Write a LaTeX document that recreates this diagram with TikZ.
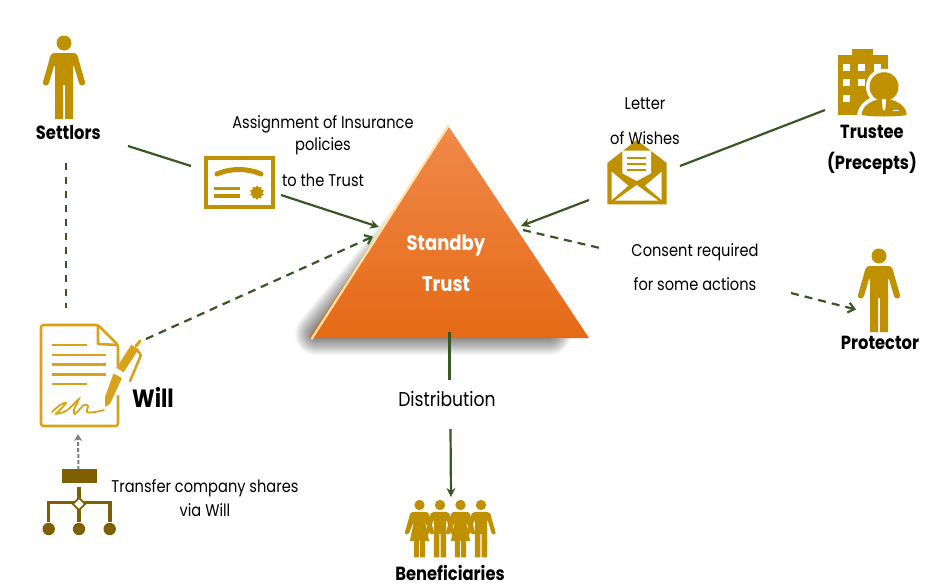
\documentclass[tikz,border=0pt]{standalone}
\usepackage{fontspec}
\setmainfont[FakeStretch=0.86]{Poppins}
\usetikzlibrary{arrows.meta,shapes.geometric}
\definecolor{icongold}{HTML}{BF9000}
\definecolor{docgold}{HTML}{D9A21B}
\definecolor{orgbrown}{HTML}{7F6000}
\definecolor{linegreen}{HTML}{385723}
\definecolor{dashgrey}{HTML}{7F7F7F}
\definecolor{trianglehi}{HTML}{F0894A}
\definecolor{trianglelo}{HTML}{E56A15}
\definecolor{trianglecream}{HTML}{FFE3A6}
\tikzset{
  plainlab/.style={font=\fontsize{17}{20}\selectfont, text=black, inner sep=0pt},
  boldlab/.style={font=\fontsize{19}{22}\selectfont\bfseries, text=black, inner sep=0pt},
  triangletext/.style={font=\fontsize{21}{24}\selectfont\bfseries, text=white, inner sep=0pt},
  conn/.style={draw=linegreen, line width=2.2pt},
  connarrow/.style={conn, -{Stealth[length=9pt,width=9pt]}},
  dashconn/.style={conn, dash pattern=on 8pt off 6pt},
  dasharrow/.style={dashconn, -{Straight Barb[length=6pt,width=10pt]}},
  pics/personicon/.style={code={
    \fill[icongold] (0,0) circle (7.5);
    \fill[icongold] (-9,10) .. controls (-13,10) and (-14,13) .. (-15,18) -- (-21,39)
      .. controls (-22,43) and (-16,44) .. (-15,40) -- (-10,23) -- (-9,23) -- (-9,76) -- (-1,76)
      -- (-1,42) -- (1,42) -- (1,76) -- (9,76) -- (9,23) -- (10,23) -- (15,40)
      .. controls (16,44) and (22,43) .. (21,39) -- (15,18)
      .. controls (14,13) and (13,10) .. (9,10) -- cycle;
  }},
  pics/womanicon/.style={code={
    \fill[icongold] (0,0) circle (7.5);
    \fill[icongold] (-8,10) .. controls (-13,10) and (-14,13) .. (-15,18) -- (-21,39)
      .. controls (-22,43) and (-16,44) .. (-15,40) -- (-8,24) -- (-14,52) -- (-8,52) -- (-8,76) -- (-1,76)
      -- (-1,52) -- (1,52) -- (1,76) -- (8,76) -- (8,52) -- (14,52) -- (8,24) -- (15,40)
      .. controls (16,44) and (22,43) .. (21,39) -- (15,18)
      .. controls (14,13) and (13,10) .. (8,10) -- cycle;
  }},
}

\begin{document}
\begin{tikzpicture}[x=1pt, y=-1pt]
\useasboundingbox (0,0) rectangle (939,587);
\fill[white] (0,0) rectangle (939,587);

% triangle
\coordinate (apex) at (449,127);
\coordinate (baseleft) at (309,338);
\coordinate (baseright) at (589,338);
\foreach \w in {2,4,...,42}
  \draw[black, opacity=.03, line width=\w pt, line join=round] (452,170) -- (316,334) -- (550,334) -- cycle;
\fill[black, opacity=.5] (452,170) -- (316,334) -- (550,334) -- cycle;
\shade[top color=trianglehi, bottom color=trianglelo] (apex) -- (baseleft) -- (baseright) -- cycle;
\draw[line width=2.2pt, color=trianglecream] ([xshift=-.3pt,yshift=2pt]apex) -- ([xshift=2.5pt,yshift=-1pt]baseleft);

% connector ends
\coordinate (settlorout) at (128,146);
\coordinate (certin) at (191,166);
\coordinate (certout) at (281,195);
\coordinate (trustleft) at (379,227);
\coordinate (willout) at (146,339);
\coordinate (trustdash) at (373,236.5);
\coordinate (trusteeout) at (825,110);
\coordinate (letterin) at (680,166);
\coordinate (letterout) at (589,200);
\coordinate (trustright) at (521,226);
\coordinate (consentin) at (600,248);
\coordinate (trustcons) at (523,230);
\coordinate (consentout) at (791,293);
\coordinate (protectin) at (856,309.5);
\coordinate (trustbase) at (449.5,332);
\coordinate (distin) at (449.5,380);
\coordinate (distout) at (450.5,429);
\coordinate (benefin) at (451,497);
\coordinate (settlordown) at (66,163);
\coordinate (willup) at (66,308);
\coordinate (orgup) at (78.5,470);
\coordinate (willbase) at (78,434);

\draw[conn] (settlorout) -- (certin);
\draw[connarrow] (certout) -- (trustleft);
\draw[dasharrow] (willout) -- (trustdash);
\draw[conn] (trusteeout) -- (letterin);
\draw[connarrow] (letterout) -- (trustright);
\draw[dashconn] (trustcons) -- (consentin);
\draw[dasharrow] (consentout) -- (protectin);
\draw[conn] (trustbase) -- (distin);
\draw[connarrow] (distout) -- (benefin);
\draw[draw=linegreen, line width=1.3pt, dash pattern=on 7pt off 7pt] (settlordown) -- (willup);
\draw[draw=dashgrey, line width=2pt, dash pattern=on 4pt off 2pt, -{Stealth[length=7pt,width=8pt]}] (orgup) -- (willbase);

% people
\pic at (64,43) {personicon};
\pic at (879,256) {personicon};
\pic[scale=.69] at (419.5,505) {womanicon};
\pic[scale=.69] at (440,505) {personicon};
\pic[scale=.69] at (460.5,505) {womanicon};
\pic[scale=.69] at (481,505) {personicon};

% certificate
\draw[icongold, line width=4pt] (206,158) rectangle (273,207);
\draw[icongold, line width=5pt, line cap=round] (217,174) .. controls (231,168) and (247,168) .. (261,174);
\draw[icongold, line width=3.2pt] (214,188.3) -- (239.5,188.3);
\draw[icongold, line width=3.2pt] (214,196) -- (239.5,196);
\node[star, star points=10, star point ratio=1.35, fill=icongold, minimum size=14.5pt, inner sep=0pt] (certseal) at (257,192.7) {};

% will document
\draw[docgold, line width=2.6pt, line join=round, rounded corners=2.5pt] (98,325) -- (41,325) -- (41,426) -- (118,426) -- (118,345) -- cycle;
\draw[docgold, line width=2.6pt, line join=round] (98,325) -- (98,344) -- (118,345);
\foreach \y/\xend in {345/87, 355/106, 364.7/106, 374.3/106, 384/87}
  \draw[docgold, line width=2.6pt] (52,\y) -- (\xend,\y);
\draw[docgold, line width=1.8pt, line cap=round] plot[smooth] coordinates {(52,412) (60,405) (66,403) (58,412) (56,414) (66,411) (76,402) (79,399) (74,410) (75,414) (84,405) (88,406) (87,412) (95,412) (104,410)};
\draw[white, line width=15pt] (112,392) -- (139,343);
\fill[docgold, rounded corners=1pt] (113.5,373.5) -- (122,378) -- (110,404) -- (105,407) -- (105,397) -- cycle;
\draw[docgold, line width=8.5pt] (120,370) -- (135,347);
\draw[docgold, line width=3pt, line cap=round] (136,346) -- (140,341);
\draw[docgold, line width=2.6pt, line cap=round, rounded corners=1pt] (137,350) -- (141,355) -- (130,381);

% org chart
\fill[orgbrown] (61.7,469) rectangle (96.7,483.3);
\draw[orgbrown, line width=3.4pt] (79,487) -- (79,522);
\draw[orgbrown, line width=3.4pt] (48.7,522) -- (48.7,502.3) -- (110,502.3) -- (110,522);
\node[diamond, draw=orgbrown, fill=white, line width=1.8pt, minimum size=13pt, inner sep=0pt] (orgdiamond) at (79,504) {};
\foreach \x in {48.7,79,109.7}
  \fill[orgbrown] (\x,529) circle (6.2);

% envelope
\fill[icongold] (607.3,163) -- (636.7,140) -- (666.7,163) -- (666.7,204.3) -- (607.3,204.3) -- cycle;
\fill[white] (622.3,150.7) -- (651,150.7) -- (651,173.3) -- (636.7,181) -- (622.3,173.3) -- cycle;
\foreach \y in {158.3,164,170}
  \draw[icongold, line width=2pt] (626.7,\y) -- (646,\y);
\fill[white] (611.7,171.7) -- (628.3,185.7) -- (611.7,200) -- cycle;
\fill[white] (661.7,171.7) -- (645,185.7) -- (661.7,200) -- cycle;
\fill[white] (615,200.7) -- (636.7,185) -- (658.3,200.7) -- cycle;

% trustee building
\fill[icongold] (837.7,55) rectangle (887.7,115);
\fill[icongold] (851.7,49.3) rectangle (873.3,55);
\foreach \x/\y in {846.7/67.3, 861.7/67.3, 877.3/67.3, 846.7/82.7, 861.7/82.7, 846.7/98.3}
  \fill[white] (\x-3.5,\y-3.5) rectangle (\x+3.5,\y+3.5);
\fill[white] (884,86.7) circle (18);
\fill[white] (857,117) .. controls (857,104) and (870,95) .. (884,95) .. controls (898,95) and (911,104) .. (911,117) -- cycle;
\fill[icongold] (884,86.7) circle (14.5);
\fill[icongold] (861.7,115) .. controls (861.7,106) and (872,99) .. (884,99) .. controls (896,99) and (906.7,106) .. (906.7,115) .. controls (896,117) and (872,117) .. (861.7,115) -- cycle;
\fill[white] (882,99) -- (886,99) -- (885.5,108) -- (884,111) -- (882.5,108) -- cycle;
\draw[white, line width=1pt] (893,110.5) -- (899,110.5);

% labels
\node[boldlab] (settlors) at (68.3,132.7) {Settlors};
\node[plainlab] (assignone) at (323,124) {Assignment of Insurance};
\node[plainlab] (assigntwo) at (323,146) {policies};
\node[plainlab] (assignthree) at (323,180) {to the Trust};
\node[plainlab] (letterone) at (645,104) {Letter};
\node[plainlab] (lettertwo) at (645,138) {of Wishes};
\node[boldlab] (trustee) at (872,132) {Trustee};
\node[boldlab] (precepts) at (872,163) {(Precepts)};
\node[triangletext] (standby) at (446,246) {Standby};
\node[triangletext] (trust) at (446,284) {Trust};
\node[plainlab] (consentone) at (695,252) {Consent required};
\node[plainlab] (consenttwo) at (695,284) {for some actions};
\node[boldlab] (protector) at (880,343) {Protector};
\node[plainlab, font=\fontsize{20}{22}\selectfont] (distribution) at (447,399) {Distribution};
\node[boldlab] (beneficiaries) at (450,573) {Beneficiaries};
\node[boldlab, font=\fontsize{25}{27}\selectfont\bfseries] (will) at (153,397) {Will};
\node[plainlab] (transferone) at (205,488) {Transfer company shares};
\node[plainlab] (transfertwo) at (205,510) {via Will};
\end{tikzpicture}
\end{document}
